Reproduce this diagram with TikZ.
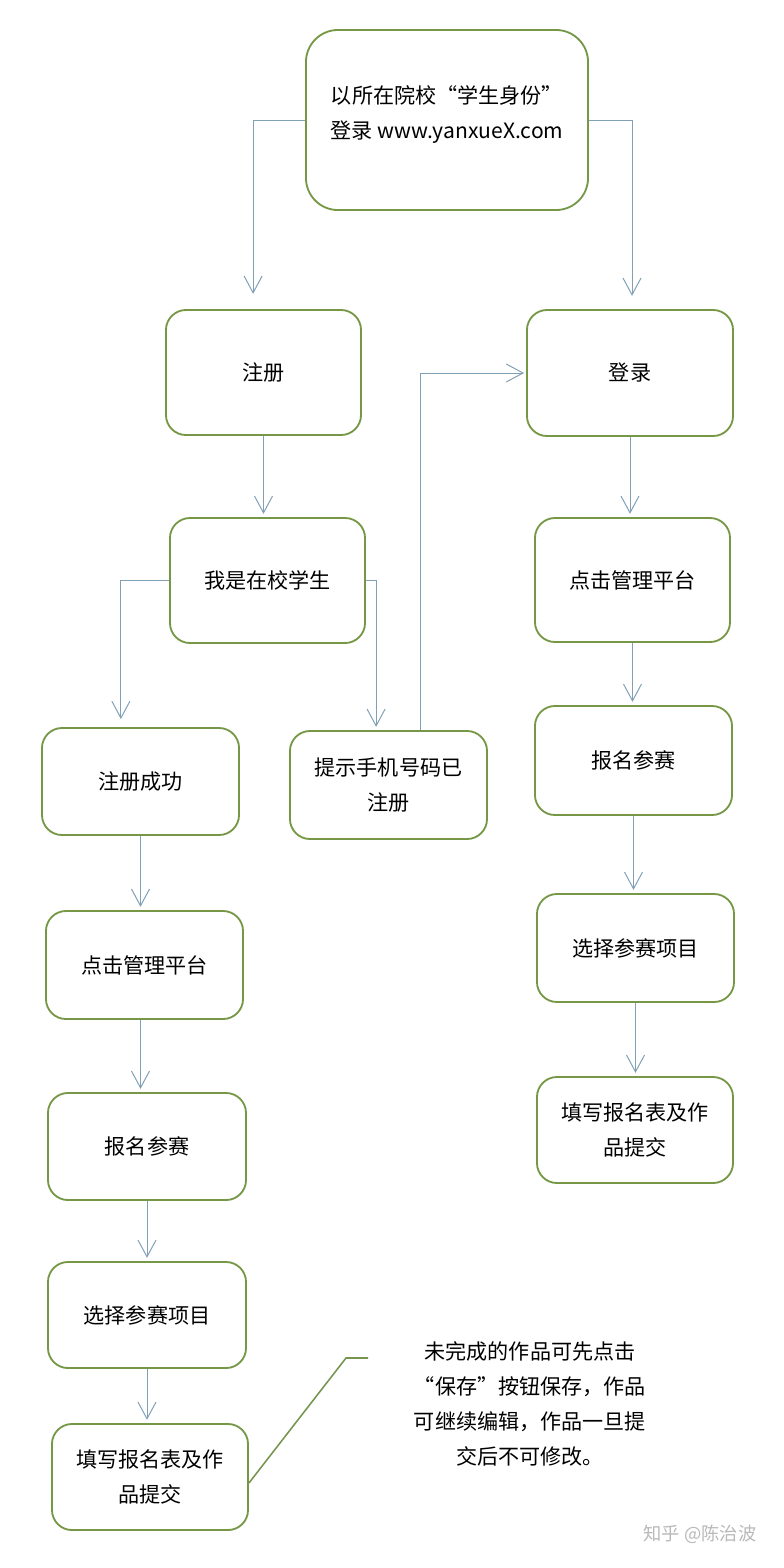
\documentclass[tikz,border=0pt]{standalone}
\usepackage{fontspec}
\setmainfont{Noto Sans CJK SC}
\usetikzlibrary{arrows.meta}
\definecolor{boxgreen}{RGB}{118,152,70}
\definecolor{linkblue}{RGB}{128,160,182}
\tikzstyle{flowbox} = [rectangle, rounded corners = 0.5cm, draw = boxgreen, line width = 1.3pt, text centered, align = center, fill = white]
\tikzstyle{arrow} = [draw = linkblue, line width = 0.7pt, ->, >={Straight Barb[length = 0.42cm, width = 0.45cm]}, shorten > = 0.08cm]
\tikzstyle{callout} = [draw = boxgreen!85!gray, line width = 1.1pt]

\begin{document}
\begin{tikzpicture}[x = 0.025cm, y = -0.025cm, font = \fontsize{15}{25}\selectfont]
    \fill[white] (0,0) rectangle (784,1568);
    \useasboundingbox (0,0) rectangle (784,1568);

    \node(login)[flowbox, minimum width = 7.05cm, minimum height = 4.5cm, rounded corners = 0.8cm] at (447,120){以所在院校“学生身份”\\登录 www.yanxueX.com\\[-0.5cm]\mbox{}};
    \node(reg)[flowbox, minimum width = 4.875cm, minimum height = 3.125cm] at (263.5,372.5){注册};
    \node(enter)[flowbox, minimum width = 5.15cm, minimum height = 3.15cm] at (630,373){登录};
    \node(student)[flowbox, minimum width = 4.875cm, minimum height = 3.125cm] at (267.5,580.5){我是在校学生};
    \node(ok)[flowbox, minimum width = 4.925cm, minimum height = 2.675cm] at (140.5,781.5){注册成功};
    \node(used)[flowbox, minimum width = 4.925cm, minimum height = 2.7cm] at (388.5,785){提示手机号码已\\注册};

    % left branch
    \node(lclick)[flowbox, minimum width = 4.925cm, minimum height = 2.7cm] at (144.5,965){点击管理平台};
    \node(lsign)[flowbox, minimum width = 4.95cm, minimum height = 2.675cm] at (147,1146.5){报名参赛};
    \node(lpick)[flowbox, minimum width = 4.95cm, minimum height = 2.65cm] at (147,1315){选择参赛项目};
    \node(lform)[flowbox, minimum width = 4.9cm, minimum height = 2.65cm] at (150,1477){填写报名表及作\\品提交};

    % right branch
    \node(rclick)[flowbox, minimum width = 4.875cm, minimum height = 3.1cm] at (632.5,580){点击管理平台};
    \node(rsign)[flowbox, minimum width = 4.925cm, minimum height = 2.725cm] at (633.5,760.5){报名参赛};
    \node(rpick)[flowbox, minimum width = 4.925cm, minimum height = 2.7cm] at (635.5,948){选择参赛项目};
    \node(rform)[flowbox, minimum width = 4.9cm, minimum height = 2.65cm] at (635,1130){填写报名表及作\\品提交};

    \node(note)[align = center] at (530,1404){未完成的作品可先点击\\“保存”按钮保存，作品\\可继续编辑，作品一旦提\\交后不可修改。};
    \node(mark)[text = gray!55, font = \fontsize{13}{15}\selectfont] at (700,1534){知乎 @陈治波};

    \coordinate(bend) at (346,1358);
    \coordinate(tail) at (368,1358);

    \draw[arrow, shorten > = 0.38cm](login.west)-|([xshift = -0.26cm]reg.north);
    \draw[arrow, shorten > = 0.33cm](login.east)-|([xshift = 0.05cm]enter.north);
    \draw[arrow](reg.south)--(reg.south |- student.north);
    \draw[arrow, shorten > = 0.2cm](student.west)-|([xshift = -0.49cm]ok.north);
    \draw[arrow](student.east)-|([xshift = -0.31cm]used.north);
    \draw[arrow, shorten > = 0.05cm]([xshift = 0.79cm]used.north)|-(enter.west);
    \draw[arrow](enter.south)--(enter.south |- rclick.north);
    \draw[arrow](rclick.south)--(rclick.south |- rsign.north);
    \draw[arrow](rsign.south)--(rsign.south |- rpick.north);
    \draw[arrow](rpick.south)--(rpick.south |- rform.north);
    \draw[arrow](ok.south)--(ok.south |- lclick.north);
    \draw[arrow]([xshift = -0.1cm]lclick.south)--([xshift = -0.1cm]lclick.south |- lsign.north);
    \draw[arrow](lsign.south)--(lsign.south |- lpick.north);
    \draw[arrow](lpick.south)--(lpick.south |- lform.north);
    \draw[callout]([yshift = -0.15cm]lform.east)--(bend)--(tail);
\end{tikzpicture}
\end{document}
